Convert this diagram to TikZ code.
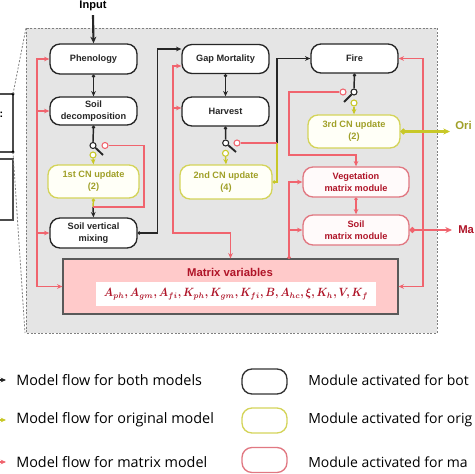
\documentclass[tikz,border=0pt]{standalone}
\usepackage{fontspec}
\setmainfont{Liberation Sans}
\newfontfamily\legfont{Open Sans}
\usepackage{amsmath}
\usepackage{bm}
\usepackage{graphicx}
\usetikzlibrary{arrows.meta,calc}
\definecolor{bggray}{RGB}{229,229,229}
\definecolor{ylw}{RGB}{200,200,40}
\definecolor{ylwbox}{RGB}{212,212,90}
\definecolor{ylwtext}{RGB}{160,160,40}
\definecolor{rdl}{RGB}{240,100,110}
\definecolor{rdbox}{RGB}{225,120,130}
\definecolor{rdtext}{RGB}{175,20,40}
\definecolor{mxfill}{RGB}{255,202,202}
\begin{document}
\begin{tikzpicture}[x=0.75pt,y=-0.75pt,
  mod/.style={draw=black!85, fill=white, rounded corners=7.5pt, line width=1pt, align=center,
    font=\bfseries\fontsize{6.9}{9}\selectfont, inner sep=0pt, text=black!85},
  ymod/.style={mod, draw=ylwbox, fill=yellow!3, text=ylwtext},
  rmod/.style={mod, draw=rdbox, fill=red!2, text=rdtext},
  sw/.style={circle, draw=#1, fill=white, inner sep=0pt, minimum size=4.5pt, line width=0.8pt},
  bl/.style={draw=black!85, line width=1.1pt},
  yl/.style={draw=ylw, line width=1.1pt},
  rl/.style={draw=rdl, line width=1.1pt},
  tip/.style={-{Stealth[length=4pt,width=3.5pt]}},
  dottip/.style={{Circle[length=2.4pt]}-{Stealth[length=4pt,width=3.5pt]}},
  dotonly/.style={{Circle[length=2.4pt]}-},
  both/.style={{Stealth[length=4pt,width=3.5pt]}-{Stealth[length=4pt,width=3.5pt]}},
  leg/.style={font=\legfont\fontsize{10.8}{13}\selectfont, anchor=west, inner sep=0pt},
  legr/.style={font=\legfont\fontsize{10.5}{13}\selectfont, anchor=west, inner sep=0pt},
  legbox/.style={draw=#1, rounded corners=7.5pt, line width=1pt, minimum width=45*0.75pt, minimum height=25*0.75pt, inner sep=0pt}
]
\useasboundingbox (0,0) rectangle (474,474);
\clip (0,0) rectangle (474,474);

% cut-off boxes on the left
\draw[black!70, line width=0.8pt] (-5,94) rectangle (13,152);
\draw[black!70, line width=0.8pt] (-5,159) rectangle (13,220);
\node[font=\bfseries\fontsize{8}{9}\selectfont, inner sep=0pt] (lc) at (1.5,115) {:};
\fill[black] (13,94) circle (1.2pt) (13,152) circle (1.2pt);
\draw[gray, dash pattern=on 1.5pt off 1.2pt, line width=0.6pt] (13,94) -- (26,28);
\draw[gray, dash pattern=on 1.5pt off 1.2pt, line width=0.6pt] (13,152) -- (25,333);

% gray panel
\draw[gray, fill=bggray, dash pattern=on 1.5pt off 1.2pt, line width=0.7pt] (26,28) rectangle (437,333);

% modules
\node[mod, minimum width=87*0.75pt, minimum height=30*0.75pt] (phen) at (93.5,59) {Phenology};
\node[mod, minimum width=87*0.75pt, minimum height=28*0.75pt] (soild) at (93.5,111) {Soil\\decomposition};
\node[ymod, minimum width=91*0.75pt, minimum height=33*0.75pt] (cn1) at (93.5,181.5) {1st CN update\\(2)};
\node[mod, minimum width=87*0.75pt, minimum height=30*0.75pt] (svm) at (93.5,233) {Soil vertical\\mixing};
\node[mod, minimum width=87*0.75pt, minimum height=29*0.75pt] (gap) at (225.5,59) {Gap Mortality};
\node[mod, minimum width=87*0.75pt, minimum height=29*0.75pt] (harv) at (225.5,111.5) {Harvest};
\node[ymod, minimum width=92*0.75pt, minimum height=34*0.75pt] (cn2) at (226,182) {2nd CN update\\(4)};
\node[mod, minimum width=87*0.75pt, minimum height=29*0.75pt] (fire) at (354.5,58.5) {Fire};
\node[ymod, minimum width=92*0.75pt, minimum height=33*0.75pt] (cn3) at (354,131.5) {3rd CN update\\(2)};
\node[rmod, minimum width=106*0.75pt, minimum height=30*0.75pt] (veg) at (356,182) {Vegetation\\matrix module};
\node[rmod, minimum width=106*0.75pt, minimum height=30*0.75pt] (soilm) at (356,230) {Soil\\matrix module};

% matrix variables
\node[draw=black!65, fill=mxfill, line width=0.9pt, minimum width=335*0.75pt, minimum height=55*0.75pt, inner sep=0pt] (matrix) at (230.5,286.5) {};
\node[font=\bfseries\fontsize{8.5}{10}\selectfont, text=rdtext, inner sep=0pt] (mtitle) at (230,272) {Matrix variables};
\node[fill=white, minimum width=280*0.75pt, minimum height=24*0.75pt, inner sep=0pt, text=rdtext, font=\fontsize{8.8}{10}\selectfont] (mvars) at (236,294)
  {\scalebox{0.87}[1]{$\bm{A_{ph}, A_{gm}, A_{fi}, K_{ph}, K_{gm}, K_{fi}, B, A_{hc}, \xi, K_h, V, K_f}$}};

% input
\node[font=\bfseries\fontsize{8.3}{10}\selectfont, inner sep=0pt] (input) at (93,6) {Input};
\draw[bl, line width=1.6pt, -{Stealth[length=5pt,width=4.5pt]}] (input.south) ++(0,4) coordinate (inb) (inb) -- (phen.north);

% switches
\node[sw=black!85] (s1b) at (93,145.5) {};
\node[sw=rdl] (s1r) at (105,145.5) {};
\node[sw=ylw] (s1y) at (93,155) {};
\coordinate (s1e) at (103,155);
\node[sw=black!85] (s2b) at (225.7,143) {};
\node[sw=rdl] (s2r) at (237,143) {};
\node[sw=ylw] (s2y) at (225.5,153.3) {};
\coordinate (s2e) at (236,152);
\node[sw=black!85] (s3b) at (354,92) {};
\node[sw=rdl] (s3r) at (343,92) {};
\node[sw=ylw] (s3y) at (354,103) {};
\coordinate (s3e) at (344,102);

% black flows
\draw[bl, dottip] (phen.south) -- (soild.north);
\draw[bl, dotonly] (soild.south) -- (s1b.north);
\draw[bl, line width=1.4pt] (s1b) -- (s1e);
\coordinate (j1) at (93,207);
\draw[bl, tip] (j1) -- (svm.north);
\draw[bl, dottip] (svm.east) -- ++(20,0) |- ($(gap.west)+(0,-10)$);
\draw[bl, dottip] (gap.south) -- (harv.north);
\draw[bl, dotonly] (harv.south) -- (s2b.north);
\draw[bl, line width=1.4pt] (s2b) -- (s2e);
\coordinate (m2) at (277,143);
\draw[bl, tip] (m2) |- (fire.west);
\draw[bl, dotonly] (fire.south) -- (s3b.north);
\draw[bl, line width=1.4pt] (s3b) -- (s3e);

% yellow flows
\draw[yl, tip] (s1y.south) -- (cn1.north);
\draw[yl, dotonly] (cn1.south) -- (j1);
\draw[yl, tip] (s2y.south) -- (cn2.north);
\draw[yl, dotonly] (cn2.east) -| (m2);
\draw[yl, tip] (s3y.south) -- (cn3.north);

% red flows
\draw[rl] (s1r.east) -- (144,145.5) -- (144,207) -- (j1);
\draw[rl] (s2r.east) -- (m2);
\draw[rl, tip] (s3r.west) -- (289,92) -- (289,155) -| (veg.north);
\draw[rl, both] (phen.west) -- (37,59) -- (37,286.5) -- (matrix.west);
\coordinate (lb1) at (37,111);
\coordinate (lb2) at (37,233);
\draw[rl, tip] (lb1) -- (soild.west);
\draw[rl, tip] (lb2) -- (svm.west);
\draw[rl, both] ($(gap.west)+(0,7)$) -- (173,66) -- (173,233) -| (matrix.north);
\coordinate (hb) at (173,108);
\draw[rl, tip] (hb) -- (hb -| harv.west);
\coordinate (mt) at (289,259);
\draw[rl, dottip] (mt) |- (veg.west);
\coordinate (sb) at (289,230);
\draw[rl, tip] (sb) -- (soilm.west);
\draw[rl, dottip] (veg.south) -- (soilm.north);
\draw[rl, both] (fire.east) -- (423,58.5) -- (423,286.5) -- (matrix.east);

% outputs
\coordinate (oo) at (450,131.5);
\draw[ylw, line width=2pt, {Circle[length=4pt]}-{Stealth[length=5pt,width=4.5pt]}] (cn3.east) -- (oo);
\node[font=\bfseries\fontsize{8.5}{10}\selectfont, text=ylwtext, anchor=west, inner sep=0pt] (orig) at (455,125) {Ori};
\coordinate (mo) at (452,230);
\draw[rdl, line width=2pt, {Circle[length=4pt]}-{Stealth[length=5pt,width=4.5pt]}] (soilm.east) -- (mo);
\node[font=\bfseries\fontsize{8.5}{10}\selectfont, text=rdtext, anchor=west, inner sep=0pt] (matm) at (458,230) {Ma};

% legend
\coordinate (a1s) at (-15,380); \coordinate (a1e) at (6,380);
\coordinate (a2s) at (-15,420); \coordinate (a2e) at (6,420);
\coordinate (a3s) at (-15,462); \coordinate (a3e) at (6,462);
\draw[bl, tip] (a1s) -- (a1e);
\draw[yl, tip] (a2s) -- (a2e);
\draw[rl, tip] (a3s) -- (a3e);
\node[leg] (t1) at (16,380) {Model flow for both models};
\node[leg] (t2) at (16,420) {Model flow for original model};
\node[leg] (t3) at (16,462) {Model flow for matrix model};
\node[legbox=black!80] (b1) at (264.5,381.5) {};
\node[legbox=ylwbox] (b2) at (264.5,420.5) {};
\node[legbox=rdbox] (b3) at (264.5,460) {};
\node[legr] (u1) at (308,380) {Module activated for bot};
\node[legr] (u2) at (308,420) {Module activated for orig};
\node[legr] (u3) at (308,462) {Module activated for ma};
\end{tikzpicture}
\end{document}
